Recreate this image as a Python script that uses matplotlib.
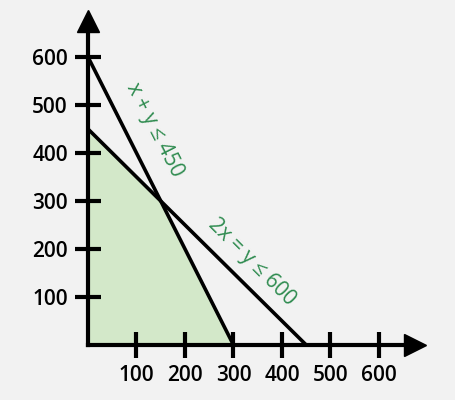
import matplotlib
matplotlib.use("Agg")
import matplotlib.pyplot as plt

# data
ticks = [100, 200, 300, 400, 500, 600]
line1_x = [0, 300]          # 2x + y = 600
line1_y = [600, 0]
line2_x = [0, 450]          # x + y = 450
line2_y = [450, 0]
region_x = [0, 0, 150, 300]
region_y = [0, 450, 300, 0]
label1 = "x + y ≤ 450"
label2 = "2x = y ≤ 600"

plt.rcParams['font.family'] = ['Open Sans', 'DejaVu Sans']

bg = '#f2f2f2'
green = '#2e8b4f'

fig = plt.figure(figsize=(4.55, 4.0), dpi=100, facecolor=bg)
ax = fig.add_axes([0.1934, 0.1375, 0.7035, 0.792])
ax.set_facecolor(bg)
ax.set_xlim(0, 660)
ax.set_ylim(0, 660)

# feasible region
ax.fill(region_x, region_y, color='#d3e8c9', zorder=1, lw=0)

# constraint lines
ax.plot(line1_x, line1_y, color='black', lw=2.6, zorder=3, solid_capstyle='butt')
ax.plot(line2_x, line2_y, color='black', lw=2.6, zorder=3, solid_capstyle='butt')

# axes
for s in ['top', 'right']:
    ax.spines[s].set_visible(False)
for s in ['left', 'bottom']:
    ax.spines[s].set_linewidth(3)
    ax.spines[s].set_zorder(4)
ax.plot([675], [0], marker='>', ms=16, color='black', clip_on=False, zorder=5)
ax.plot([0], [675], marker='^', ms=16, color='black', clip_on=False, zorder=5)

ax.set_xticks(ticks)
ax.set_yticks(ticks)
ax.tick_params(direction='inout', length=19, width=3, labelsize=15, pad=5)
for t in ax.get_xticklabels() + ax.get_yticklabels():
    t.set_fontweight('semibold')

# labels along lines
ax.text(138, 448, label1, color=green, fontsize=15, rotation=-63,
        ha='center', va='center', zorder=6)
ax.text(338, 173, label2, color=green, fontsize=15, rotation=-45,
        ha='center', va='center', zorder=6)

fig.savefig('out.png', dpi=100, facecolor=bg)
